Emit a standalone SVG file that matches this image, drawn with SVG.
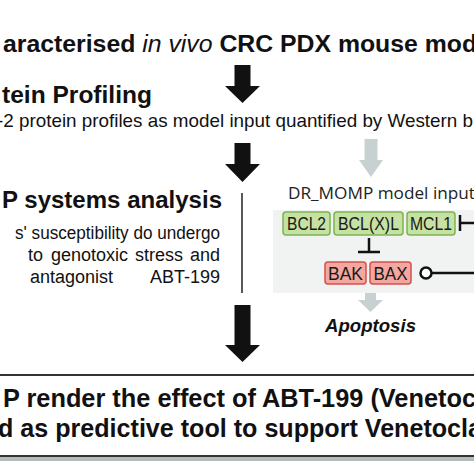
<svg xmlns="http://www.w3.org/2000/svg" width="474" height="474" viewBox="0 0 474 474">
<style>
.h{font-family:"Liberation Sans",Arial,sans-serif;font-weight:bold;font-size:24px;fill:#111}
.p{font-family:"Liberation Sans",Arial,sans-serif;font-size:18px;fill:#111}
.g{fill:#c6e2a3;stroke:#7db352;stroke-width:1.5}
.r{fill:#f3a7a0;stroke:#d2524d;stroke-width:1.5}
.bx{font-family:"Liberation Sans",Arial,sans-serif;font-size:18.5px;fill:#1a1a1a}
.blk{fill:#111}
.gry{fill:#c8d1d2}
.ln{stroke:#111;stroke-width:2.5;fill:none}
</style>
<rect width="474" height="474" fill="#fff"/>

<g id="title">
<text x="3" y="52" class="h" style="font-size:24.8px">aracterised <tspan font-weight="normal" font-style="italic">in vivo</tspan> CRC PDX mouse mod</text>
</g>

<g id="profiling">
<text x="2" y="103" class="h" textLength="150" lengthAdjust="spacingAndGlyphs">tein Profiling</text>
<text x="-3" y="127" class="p" style="font-size:18.5px" textLength="476" lengthAdjust="spacingAndGlyphs">-2 protein profiles as model input quantified by Western b</text>
</g>

<g id="systems">
<text x="2" y="208" class="h" textLength="220" lengthAdjust="spacingAndGlyphs">P systems analysis</text>
<text x="15" y="239" class="p" textLength="205" lengthAdjust="spacingAndGlyphs">s' susceptibility do undergo</text>
<text x="28" y="261" class="p">to</text>
<text x="51" y="261" class="p">genotoxic</text>
<text x="135" y="261" class="p">stress</text>
<text x="220" y="261" class="p" text-anchor="end">and</text>
<text x="30" y="283" class="p">antagonist</text>
<text x="220" y="283" class="p" text-anchor="end">ABT-199</text>
</g>

<g id="model-panel">
<rect x="273" y="210" width="201" height="83" fill="#f1f3f3"/>
<text x="288" y="199" font-family="'Open Sans','DejaVu Sans',sans-serif" font-size="17" fill="#222" textLength="187" lengthAdjust="spacingAndGlyphs">DR_MOMP model input</text>
</g>

<g id="bcl2">
<rect x="283" y="212" width="47" height="23" rx="3" class="g"/>
<text x="306.5" y="230" class="bx" text-anchor="middle" textLength="39" lengthAdjust="spacingAndGlyphs">BCL2</text>
</g>
<g id="bclxl">
<rect x="334" y="212" width="69" height="23" rx="3" class="g"/>
<text x="368.5" y="230" class="bx" text-anchor="middle" textLength="61" lengthAdjust="spacingAndGlyphs">BCL(X)L</text>
</g>
<g id="mcl1">
<rect x="407" y="212" width="48" height="23" rx="3" class="g"/>
<text x="431" y="230" class="bx" text-anchor="middle" textLength="42" lengthAdjust="spacingAndGlyphs">MCL1</text>
</g>
<g id="bak">
<rect x="325" y="262" width="41" height="22" rx="3" class="r"/>
<text x="345.5" y="280" class="bx" text-anchor="middle" textLength="35" lengthAdjust="spacingAndGlyphs">BAK</text>
</g>
<g id="bax">
<rect x="370" y="262" width="41" height="22" rx="3" class="r"/>
<text x="390.5" y="280" class="bx" text-anchor="middle" textLength="34" lengthAdjust="spacingAndGlyphs">BAX</text>
</g>
<g id="apoptosis">
<text x="325" y="332" font-family="'Liberation Sans',Arial,sans-serif" font-weight="bold" font-style="italic" font-size="18.5" fill="#111" textLength="91" lengthAdjust="spacingAndGlyphs">Apoptosis</text>
</g>

<g id="conclusion">
<rect x="-5" y="375" width="484" height="81" fill="#fff"/>
<rect x="-5" y="456" width="484" height="5" fill="#b4bcbc"/>
<line x1="-5" y1="375" x2="479" y2="375" stroke="#333" stroke-width="2"/>
<line x1="-5" y1="456" x2="479" y2="456" stroke="#333" stroke-width="2"/>
<text x="3" y="407" class="h" style="font-size:25px" textLength="473" lengthAdjust="spacingAndGlyphs">P render the effect of ABT-199 (Venetoc</text>
<text x="-2" y="437" class="h" style="font-size:25px" textLength="484" lengthAdjust="spacingAndGlyphs">d as predictive tool to support Venetocla</text>
</g>

<g id="connectors">
<polygon class="blk" points="234.5,65 250.5,65 250.5,86 260,86 242.5,103 225,86 234.5,86"/>
<polygon class="blk" points="234.5,143 250.5,143 250.5,164 260,164 242.5,182 225,164 234.5,164"/>
<polygon class="blk" points="234.5,305 250.5,305 250.5,345 260,345 242.5,362 225,345 234.5,345"/>
<line x1="242" y1="193" x2="242" y2="293" stroke="#222" stroke-width="1.5"/>
<polygon class="gry" points="364.5,139 377.5,139 377.5,160 383,160 371,177 359,160 364.5,160"/>
<polygon class="gry" points="365,293 376,293 376,300 383,300 370.5,312 358,300 365,300"/>
<line class="ln" x1="460" y1="223" x2="474" y2="223"/>
<line class="ln" x1="460" y1="215" x2="460" y2="231"/>
<line class="ln" x1="369" y1="238" x2="369" y2="252"/>
<line class="ln" x1="358" y1="252" x2="380" y2="252"/>
<line class="ln" x1="432" y1="273" x2="474" y2="273"/>
<circle cx="426" cy="273" r="5.5" fill="#fff" stroke="#111" stroke-width="2.5"/>
</g>
</svg>
